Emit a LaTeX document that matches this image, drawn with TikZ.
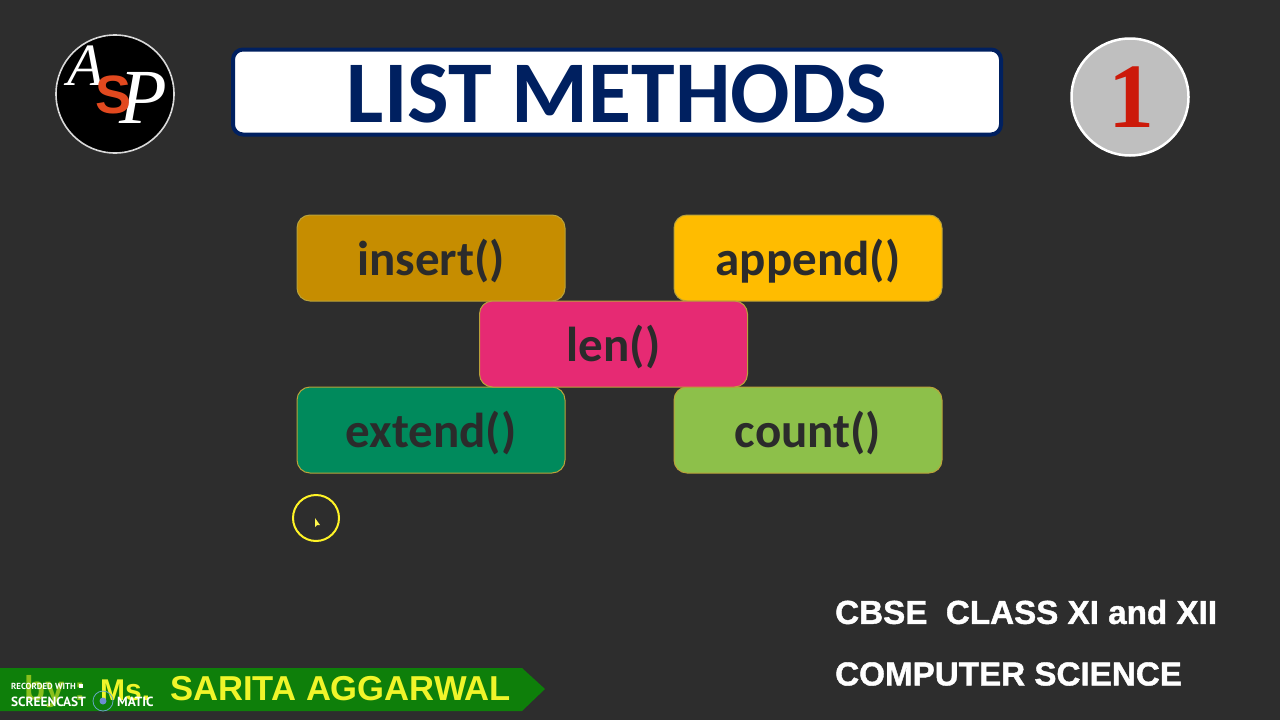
\documentclass[tikz,border=0pt]{standalone}
\usepackage{fontspec}
\setmainfont{Carlito}
\newfontfamily\arialfont{Liberation Sans}
\newfontfamily\arialheavy[FakeBold=1.2]{Liberation Sans}
\newfontfamily\serifont{Liberation Serif}
\newfontfamily\dejafont{PT Sans}
\definecolor{bgdark}{HTML}{2D2D2D}
\definecolor{titlenavy}{HTML}{002060}
\definecolor{methtext}{HTML}{2B2B2B}
\definecolor{methborder}{HTML}{B9A23A}
\definecolor{ribbongreen}{HTML}{0E7F0A}
\definecolor{ribbonyellow}{HTML}{F0F52A}
\definecolor{logored}{HTML}{E2491F}
\definecolor{numred}{HTML}{CC1A0A}
\tikzset{
  method/.style={draw=methborder, fill=#1, rounded corners=13pt, minimum width=268pt, text height=60pt, text depth=26pt,
    inner sep=0pt, text=methtext, font=\fontsize{49}{49}\selectfont\bfseries, line width=1pt},
  footline/.style={anchor=west, inner sep=0pt, text=white, font=\arialheavy\fontsize{33.2}{33.2}\selectfont\bfseries},
  ribbontext/.style={anchor=base west, inner sep=0pt, text=ribbonyellow, font=\arialfont\fontsize{34.6}{34.6}\selectfont\bfseries},
  watermark/.style={anchor=base west, inner sep=0pt, text=white}
}
\definecolor{insertcol}{HTML}{C68D00}
\definecolor{appendcol}{HTML}{FFBC00}
\definecolor{lencol}{HTML}{E62A73}
\definecolor{extendcol}{HTML}{008A5C}
\definecolor{countcol}{HTML}{8DC04A}
\begin{document}
\begin{tikzpicture}[x=1pt,y=-1pt]
  \useasboundingbox (0,0) rectangle (1280,720);
  \fill[bgdark] (0,0) rectangle (1280,720);
  % logo
  \node[circle, draw=white!85!black, fill=black, line width=1.6pt, inner sep=0pt, minimum size=118pt] (logo) at (115,94) {};
  \node[text=white, inner sep=0pt, font=\serifont\itshape\fontsize{60}{60}\selectfont] (logoa) at (86,66) {A};
  \node[text=white, inner sep=0pt, font=\serifont\itshape\fontsize{78}{78}\selectfont] (logop) at (143,98) {P};
  \node[text=logored, inner sep=0pt, font=\arialfont\bfseries\fontsize{54}{54}\selectfont] (logos) at (114,95) {S};
  % title
  \node[draw=titlenavy, fill=white, line width=4pt, rounded corners=10pt, minimum width=768pt, minimum height=85pt, inner sep=0pt] (titlebox) at (617,92) {};
  \node[text=titlenavy, inner sep=0pt, font=\fontsize{88}{88}\selectfont\bfseries] (title) at (617,94) {LIST METHODS};
  % number
  \node[circle, draw=white, fill=black!25, line width=2.5pt, inner sep=0pt, minimum size=117pt] (numcircle) at (1130,97) {};
  \node[text=numred, inner sep=0pt, font=\serifont\bfseries\fontsize{92}{92}\selectfont] (num) at (1131,97) {1};
  % methods
  \node[method=insertcol] (insert) at (431,258) {insert()};
  \node[method=appendcol] (append) at (808,258) {append()};
  \node[method=extendcol] (extend) at (431,430) {extend()};
  \node[method=countcol] (count) at (808,430) {count()};
  \node[method=lencol] (len) at (613.5,344) {len()};
  % cursor
  \node[circle, draw=yellow!85!white, line width=2pt, inner sep=0pt, minimum size=46pt] (cursor) at (316,518) {};
  \fill[yellow!70!white] (315,518) -- (315,527) -- (317,525) -- (320,525) -- cycle;
  % footer
  \node[footline] (cbse) at (835,612) {CBSE\ \ CLASS XI and XII};
  \node[footline] (cs) at (835,674) {COMPUTER SCIENCE};
  % ribbon
  \fill[ribbongreen] (0,668) -- (522,668) -- (545,689) -- (522,711) -- (0,711) -- cycle;
  \node[ribbontext, text=ribbonyellow!55!ribbongreen] (by) at (24,700) {by :};
  \node[ribbontext, font=\arialfont\fontsize{30}{30}\selectfont\bfseries] (ms) at (100,700) {Ms.};
  \node[ribbontext] (sarita) at (170,700) {SARITA AGGARWAL};
  % watermark
  \node[watermark, font=\dejafont\bfseries\fontsize{8.8}{8.8}\selectfont] (rec) at (11,689) {RECORDED WITH};
  \fill[white] (79,684) rectangle (83,688);
  \node[watermark, font=\dejafont\bfseries\fontsize{13.3}{13.3}\selectfont] (sc) at (11,706) {SCREENCAST};
  \node[circle, draw=cyan!50!gray, line width=0.8pt, inner sep=0pt, minimum size=20pt] (ring) at (103,701) {};
  \node[circle, fill=cyan!40!blue!60!white, inner sep=0pt, minimum size=7pt] (dot) at (103,701) {};
  \node[watermark, font=\dejafont\bfseries\fontsize{13.3}{13.3}\selectfont] (matic) at (117,706) {MATIC};
\end{tikzpicture}
\end{document}
